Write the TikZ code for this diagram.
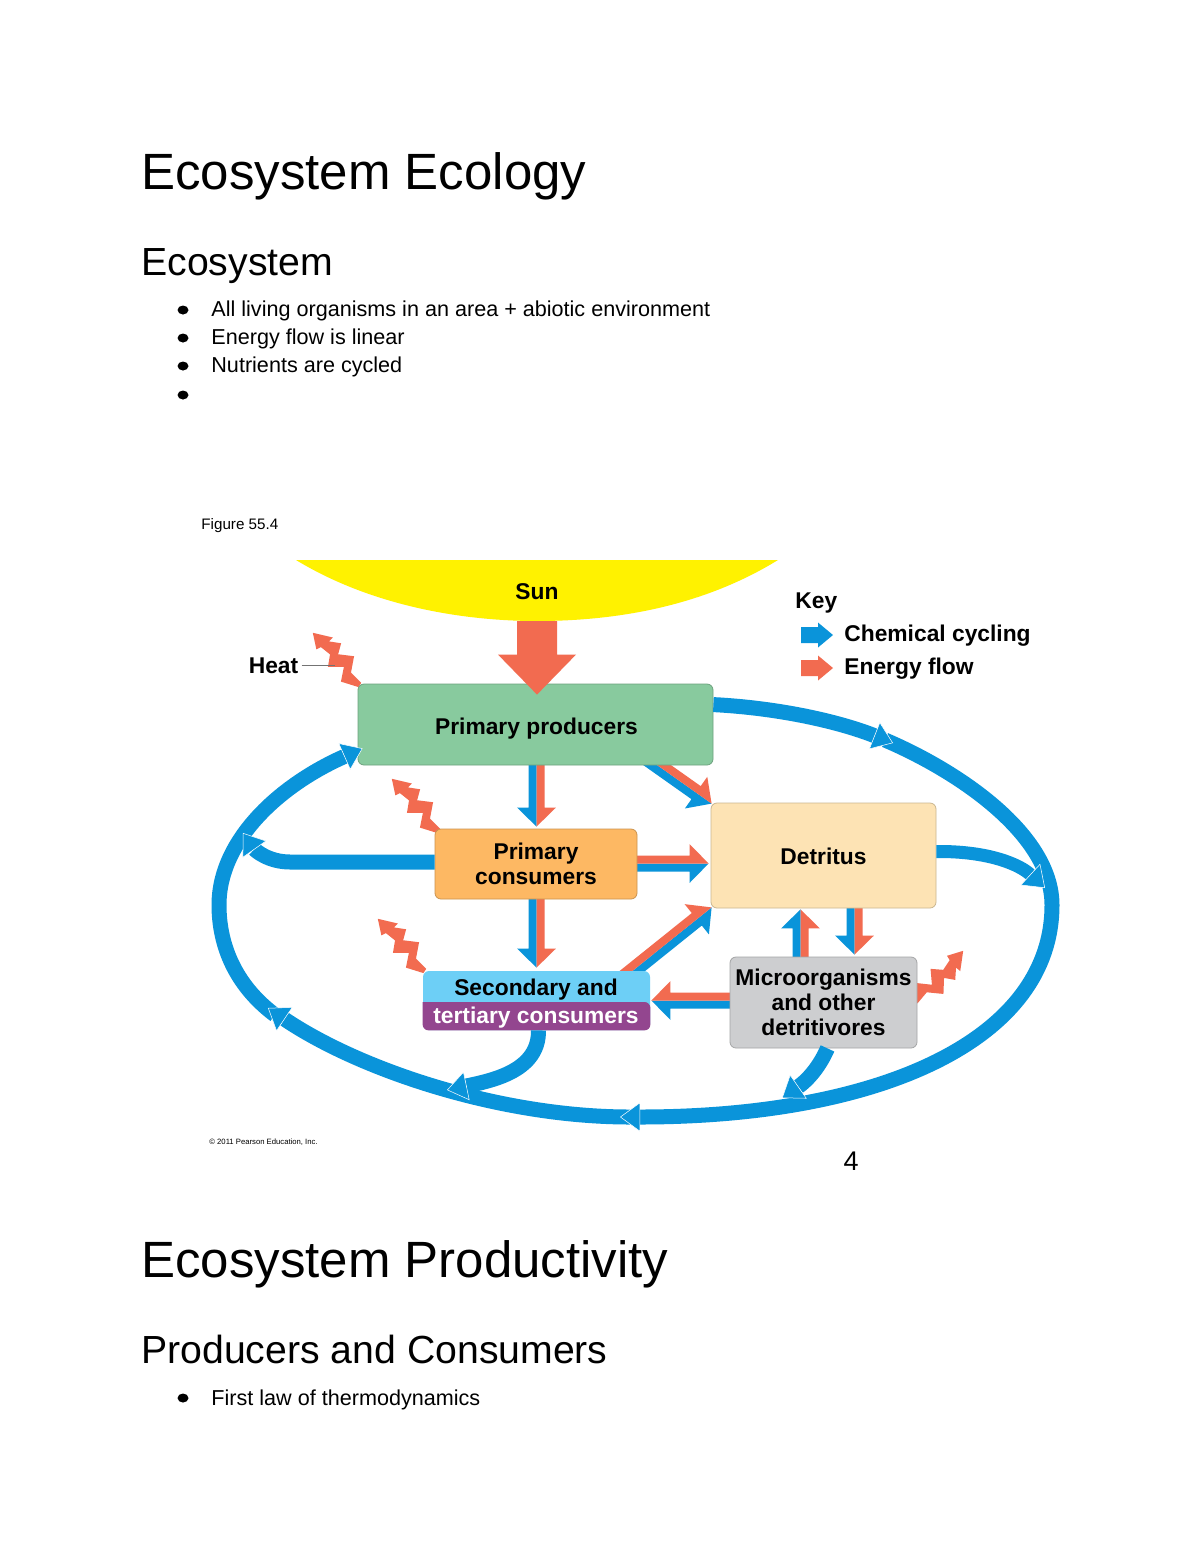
\documentclass[tikz,border=0pt]{standalone}
\usepackage{fontspec}
\usepackage{xcolor}
\setmainfont{Liberation Sans}
\usetikzlibrary{calc,arrows.meta,backgrounds}
\definecolor{cycblue}{HTML}{0A94DA}
\definecolor{nrgred}{HTML}{F26B50}
\definecolor{sunyellow}{HTML}{FFF200}
\definecolor{prodgreen}{HTML}{88CA9E}
\definecolor{consorange}{HTML}{FDB863}
\definecolor{detrtan}{HTML}{FDE3B4}
\definecolor{microgrey}{HTML}{CDCED0}
\definecolor{seccyan}{HTML}{6DCFF6}
\definecolor{secpurple}{HTML}{93468F}
\tikzset{
  stagebox/.style={draw=#1!80!black, line width=.4pt, fill=#1, rounded corners=3pt,
    inner sep=0pt, align=center, font=\diagfont},
  difflabel/.style={inner sep=0pt, align=center, font=\diagfont},
  pagetitle/.style={anchor=base west, inner sep=0pt, font=\fontsize{25.5}{30}\selectfont},
  pagehead/.style={anchor=base west, inner sep=0pt, font=\fontsize{19.6}{24}\selectfont},
  pagetext/.style={anchor=base west, inner sep=0pt, font=\fontsize{10.8}{13}\selectfont},
  cycline/.style={draw=cycblue, line width=#1,
    -{Triangle[length=10pt,width=14.5pt,fill=cycblue,color=white,line width=.25pt]}},
  cycline/.default=7.5pt
}
\newcommand{\diagfont}{\fontsize{11.4}{12.5}\selectfont\bfseries}
% one half of a two coloured arrow: colour, from, to, side
\newcommand{\halfarrow}[4]{%
  \coordinate (hb) at ($(#3)!9.5pt!(#2)$);
  \fill[#1] (#2) -- ($(#2)!4pt!#4:(#3)$) -- ($(hb)!4pt!#4:(#3)$)
    -- ($(hb)!9.7pt!#4:(#3)$) -- (#3) -- cycle;
}
\newcommand{\pairarrow}[4]{%
  \halfarrow{cycblue}{#1}{#2}{#3}
  \halfarrow{nrgred}{#1}{#2}{#4}
}
% colour, from, to, half shaft, half head, head length
\newcommand{\blockarrow}[6]{%
  \coordinate (hb) at ($(#3)!#6!(#2)$);
  \fill[#1] ($(#2)!#4!90:(#3)$) -- ($(hb)!#4!90:(#3)$) -- ($(hb)!#5!90:(#3)$) -- (#3)
    -- ($(hb)!#5!-90:(#3)$) -- ($(hb)!#4!-90:(#3)$) -- ($(#2)!#4!-90:(#3)$) -- cycle;
}
\newcommand{\heat}[3]{%
  \filldraw[nrgred, line width=.9pt, shift={(#1,#2)}, rotate=#3] (1,1) -- (18,5) -- (14,9) -- (27,11) -- (24,22)
    -- (40,24) -- (37,40) -- (47,50) -- (45,53) -- (29,48) -- (32,33) -- (16,33)
    -- (18,21) -- (8,13) -- (4,15) -- cycle;
}

\begin{document}
\begin{tikzpicture}[x=0.5pt,y=-0.5pt]
   \path[use as bounding box] (0,0) rectangle (1200,1553);

   % page text
   \node[pagetitle] (ttl1) at (141,189) {Ecosystem Ecology};
   \node[pagehead] (hd1) at (141,275) {Ecosystem};
   \node[pagetext] (li1) at (211,316) {All living organisms in an area + abiotic environment};
   \node[pagetext] (li2) at (211,344) {Energy flow is linear};
   \node[pagetext] (li3) at (211,372) {Nutrients are cycled};
   \node[pagetitle] (ttl2) at (141,1277) {Ecosystem Productivity};
   \node[pagehead] (hd2) at (141,1363) {Producers and Consumers};
   \node[pagetext] (li4) at (211,1405) {First law of thermodynamics};
   \foreach \y in {310,338,366,395,1398} {%
     \fill[black] (183,\y) ellipse[x radius=5.5,y radius=4.5];
   }
   \node[anchor=west, inner sep=0pt, font=\fontsize{7.6}{9}\selectfont] (fig) at (201,526) {Figure 55.4};
   \node[anchor=west, inner sep=0pt, font=\fontsize{3.85}{5}\selectfont] (copy) at (209,1142) {© 2011 Pearson Education, Inc.};
   \node[inner sep=0pt, font=\fontsize{13.5}{16}\selectfont] (pnum) at (851,1161) {4};

   % heat
   \heat{313}{633}{0}
   \heat{392}{779}{0}
   \heat{378}{919}{0}
   \heat{963}{951}{-85}

   % sun and boxes
   \fill[sunyellow] (296,560) .. controls (370,605) and (460,621) .. (537,621)
     .. controls (620,621) and (705,605) .. (778,560) -- cycle;
   \node[difflabel] (sun) at (537,592) {Sun};
   \node[stagebox=prodgreen, minimum width=177.5pt, minimum height=40.5pt] (prod) at (535.5,724.5) {};
   \node[difflabel] (prodlbl) at (536.5,729) {Primary producers};
   \node[stagebox=consorange, minimum width=101pt, minimum height=35pt] (pcons) at (536,864) {Primary\\consumers};
   \node[stagebox=detrtan, minimum width=112.5pt, minimum height=52.5pt] (detr) at (823.5,855.5) {};
   \node[difflabel] (detrlbl) at (823.5,856) {Detritus};
   \node[stagebox=microgrey, minimum width=93.5pt, minimum height=45.5pt] (micro) at (823.5,1002.5) {Microorganisms\\and other\\detritivores};
   \node[stagebox=seccyan, draw=none, minimum width=113.5pt, minimum height=29.5pt] (sec) at (536.5,1000.5) {};
   \fill[secpurple, rounded corners=3pt] (sec.west |- 0,1002) -- (sec.south west)
     -- (sec.south east) -- (sec.east |- 0,1002) [sharp corners] -- cycle;
   \node[difflabel] (seclbl) at (536,990) {Secondary and};
   \node[difflabel, text=white] (seclbl2) at (536,1018) {tertiary consumers};

   % key
   \node[difflabel, anchor=west] (key) at (795,603) {Key};
   \node[difflabel, anchor=west] (keyc) at (844,636) {Chemical cycling};
   \node[difflabel, anchor=west] (keye) at (844,669) {Energy flow};
   \coordinate (kc1) at (801,635);
   \coordinate (kc2) at (833,635);
   \coordinate (ke1) at (801,668);
   \coordinate (ke2) at (833,668);
   \blockarrow{cycblue}{kc1}{kc2}{4pt}{6.25pt}{7.5pt}
   \blockarrow{nrgred}{ke1}{ke2}{4pt}{6.25pt}{7.5pt}

   % energy from the sun
   \coordinate (sunb) at (537,621);
   \coordinate (sunt) at ($(prod.north)+(1.5,11)$);
   \blockarrow{nrgred}{sunb}{sunt}{10pt}{19.5pt}{20pt}

   \node[difflabel] (heatlbl) at (273.5,666) {Heat};
   \coordinate (heatend) at (335,665);
   \draw[black!55, line width=.4pt] ($(heatlbl.east)+(3,-1)$) -- (heatend);

   % big loop, each head lies on the tail of the next part
   \draw[cycline] (275,1015) .. controls (235,985) and (219,945) .. (219,905)
     .. controls (219,840) and (280,785) .. ($(prod.south west)+(5,-17)$);
   \draw[cycline] (630,1117) .. controls (500,1117) and (360,1070) .. (268,1008);
   \draw[cycline] (885,740) .. controls (960,772) and (1052,835) .. (1052,905)
     .. controls (1052,1040) and (880,1117) .. (620,1117);
   \draw[cycline] ($(prod.north east)+(0,21)$) .. controls (780,708) and (840,722) .. (893,743);

   % into the loop
   \draw[cycline] ($(pcons.west)+(0,-2)$) -- (290,862) .. controls (268,862) and (255,850) .. (243,833);
   \draw[cycline=6.5pt] ($(detr.east)+(0,-4)$) .. controls (990,851) and (1020,865) .. (1045,888);
   \draw[cycline] ($(sec.south)+(2,0)$) .. controls (539,1070) and (495,1080) .. (447,1090);
   \draw[cycline] ($(micro.south)+(4,0)$) .. controls (818,1070) and (805,1082) .. (782,1098);

   % pairs between the boxes, tails under the boxes
   \begin{scope}[on background layer]
   \fill[white] (0,0) rectangle (1200,1553);
   \coordinate (pp1) at ($(prod.south)+(1,-2)$);
   \coordinate (pp2) at ($(pcons.north)+(.5,-2)$);
   \pairarrow{pp1}{pp2}{-90}{90}
   \coordinate (pc1) at ($(pcons.south)+(.5,-2)$);
   \coordinate (pc2) at ($(sec.north)+(0,-3)$);
   \pairarrow{pc1}{pc2}{-90}{90}
   \coordinate (pd1) at ($(prod.south east)+(-70,-10)$);
   \coordinate (pd2) at ($(detr.north west)+(1,1)$);
   \pairarrow{pd1}{pd2}{-90}{90}
   \coordinate (cd1) at ($(pcons.east)+(-5,-.5)$);
   \coordinate (cd2) at ($(detr.west)+(-2,8)$);
   \pairarrow{cd1}{cd2}{-90}{90}
   \coordinate (sd1) at ($(sec.north east)+(-30,10)$);
   \coordinate (sd2) at ($(detr.south west)+(1,-1)$);
   \pairarrow{sd1}{sd2}{-90}{90}
   \coordinate (md1) at ($(micro.north)+(-23,5)$);
   \coordinate (md2) at ($(detr.south)+(-23,1)$);
   \pairarrow{md1}{md2}{90}{-90}
   \coordinate (dm1) at ($(detr.south)+(31,-5)$);
   \coordinate (dm2) at ($(micro.north)+(31,-2)$);
   \pairarrow{dm1}{dm2}{-90}{90}
   \coordinate (ms1) at ($(micro.west)+(5,-2)$);
   \coordinate (ms2) at ($(sec.east)+(1,0)$);
   \pairarrow{ms1}{ms2}{90}{-90}
   \end{scope}
 \end{tikzpicture}
\end{document}
